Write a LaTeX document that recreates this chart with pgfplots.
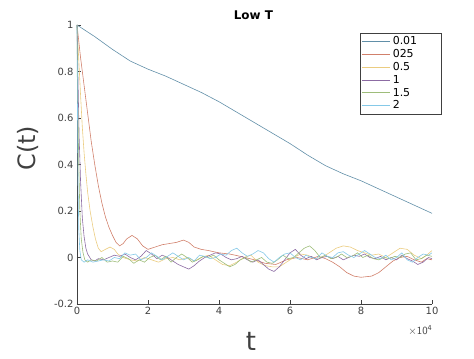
\documentclass[border=0pt]{standalone}
\usepackage{fontspec}
\setmainfont{DejaVu Sans}
\usepackage{pgfplots}
\pgfplotsset{compat=1.18}
\definecolor{cA}{rgb}{0.38,0.56,0.66}
\definecolor{cB}{rgb}{0.82,0.50,0.42}
\definecolor{cC}{rgb}{0.92,0.80,0.50}
\definecolor{cD}{rgb}{0.55,0.42,0.64}
\definecolor{cE}{rgb}{0.62,0.74,0.48}
\definecolor{cF}{rgb}{0.52,0.79,0.91}
\definecolor{axc}{rgb}{0.25,0.25,0.25}
\begin{document}
\begin{tikzpicture}[x=1bp,y=1bp]
\useasboundingbox (-77,-54) rectangle (397,304);
\begin{axis}[
  at={(0,0)}, anchor=south west,
  width=355bp, height=279bp, scale only axis,
  xmin=0, xmax=10, ymin=-0.2, ymax=1,
  axis lines=left, axis line style={-, axc},
  xtick={0,2,...,10}, ytick={-0.2,0,0.2,0.4,0.6,0.8,1},
  yticklabels={-0.2,0,0.2,0.4,0.6,0.8,1},
  tick align=inside, major tick length=4bp,
  tick style={axc},
  ticklabel style={font=\fontsize{10}{12}\selectfont, text=axc},
  /pgf/number format/assume math mode=true,
  clip=false,
  every axis plot/.append style={line width=0.6pt},
  legend style={at={(1.0254,0.9713)}, anchor=north east, font=\fontsize{11}{12}\selectfont, draw=axc, line width=0.5pt, inner sep=2bp, nodes={inner ysep=1.6bp}},
  legend cell align=left,
  legend image code/.code={\draw[#1] (0bp,0bp) -- (28bp,0bp);},
]
\addplot[cA] coordinates {(0,1.0)(0.5,0.95)(1,0.895)(1.5,0.845)(2,0.81)(2.5,0.78)(3,0.745)(3.5,0.71)(4,0.67)(4.5,0.625)(5,0.58)(5.5,0.535)(6,0.49)(6.5,0.44)(7,0.395)(7.5,0.36)(8,0.33)(8.5,0.295)(9,0.26)(9.5,0.225)(10,0.19)};
\addlegendentry{\makebox[44bp][l]{0.01}}
\addplot[cB] coordinates {(0,1.0)(0.1,0.86)(0.2,0.74)(0.3,0.62)(0.4,0.50)(0.5,0.40)(0.6,0.31)(0.7,0.235)(0.8,0.175)(0.9,0.13)(1.0,0.095)(1.1,0.065)(1.2,0.05)(1.3,0.06)(1.4,0.08)(1.55,0.095)(1.7,0.08)(1.85,0.05)(2.0,0.035)(2.2,0.045)(2.4,0.055)(2.6,0.06)(2.8,0.065)(3.0,0.075)(3.15,0.065)(3.3,0.045)(3.5,0.035)(3.7,0.03)(4.0,0.02)(4.3,0.015)(4.6,0.005)(5.0,-0.01)(5.3,-0.025)(5.6,-0.03)(5.9,-0.01)(6.2,0.0)(6.5,-0.01)(6.8,0.005)(7.0,-0.005)(7.2,-0.02)(7.4,-0.04)(7.6,-0.065)(7.8,-0.08)(8.0,-0.085)(8.3,-0.08)(8.5,-0.065)(8.7,-0.04)(8.9,-0.015)(9.1,0.0)(9.3,0.005)(9.5,-0.01)(9.7,-0.02)(9.85,-0.005)(10,-0.01)};
\addlegendentry{025}
\addplot[cC] coordinates {(0,1.0)(0.05,0.85)(0.1,0.7)(0.15,0.56)(0.2,0.45)(0.25,0.36)(0.3,0.28)(0.37,0.2)(0.45,0.13)(0.52,0.08)(0.6,0.04)(0.68,0.025)(0.8,0.035)(0.93,0.045)(1.05,0.035)(1.15,0.015)(1.3,0.0)(1.5,-0.01)(1.7,-0.015)(1.9,0.0)(2.1,-0.01)(2.3,-0.02)(2.5,-0.005)(2.7,0.0)(2.9,-0.01)(3.1,0.0)(3.3,-0.015)(3.5,0.0)(3.7,0.01)(3.9,-0.01)(4.1,-0.03)(4.3,-0.035)(4.5,-0.02)(4.7,0.0)(4.9,0.01)(5.1,-0.02)(5.3,-0.035)(5.5,-0.04)(5.7,-0.04)(5.9,-0.02)(6.1,0.0)(6.3,0.015)(6.5,0.01)(6.7,-0.005)(6.9,0.0)(7.1,0.02)(7.3,0.04)(7.5,0.05)(7.7,0.045)(7.9,0.03)(8.1,0.02)(8.3,0.01)(8.5,0.015)(8.7,0.0)(8.9,0.02)(9.1,0.04)(9.3,0.035)(9.5,0.01)(9.7,-0.005)(9.85,0.01)(10,0.03)};
\addlegendentry{0.5}
\addplot[cD] coordinates {(0,1.0)(0.03,0.75)(0.06,0.52)(0.1,0.33)(0.15,0.17)(0.2,0.09)(0.25,0.04)(0.3,0.015)(0.4,-0.01)(0.5,-0.015)(0.6,-0.005)(0.75,-0.01)(0.9,0.0)(1.05,0.01)(1.2,0.005)(1.35,0.015)(1.5,0.0)(1.65,-0.01)(1.8,0.005)(1.95,0.03)(2.1,0.015)(2.25,-0.005)(2.4,0.01)(2.55,0.0)(2.7,-0.015)(2.85,-0.03)(3.0,-0.04)(3.15,-0.05)(3.3,-0.035)(3.45,-0.015)(3.6,0.0)(3.75,0.01)(3.9,0.02)(4.05,0.015)(4.2,0.0)(4.35,-0.01)(4.5,-0.005)(4.65,0.005)(4.8,-0.01)(4.95,-0.02)(5.1,-0.01)(5.25,-0.03)(5.4,-0.05)(5.55,-0.06)(5.7,-0.04)(5.85,-0.01)(6.0,0.02)(6.15,0.035)(6.3,0.01)(6.45,-0.005)(6.6,0.005)(6.75,-0.01)(6.9,0.0)(7.05,0.005)(7.2,-0.005)(7.35,0.005)(7.5,-0.01)(7.65,0.0)(7.8,0.01)(7.95,0.005)(8.1,0.015)(8.25,0.0)(8.4,-0.005)(8.55,0.005)(8.7,-0.01)(8.85,0.0)(9.0,-0.01)(9.15,0.01)(9.3,-0.005)(9.45,-0.015)(9.6,-0.03)(9.75,-0.02)(9.9,0.0)(10,-0.005)};
\addlegendentry{1}
\addplot[cE] coordinates {(0,1.0)(0.02,0.7)(0.05,0.4)(0.08,0.2)(0.12,0.08)(0.17,0.02)(0.22,-0.01)(0.3,-0.02)(0.4,-0.01)(0.55,-0.015)(0.7,0.0)(0.85,-0.02)(1.0,-0.015)(1.15,-0.02)(1.3,0.005)(1.45,-0.005)(1.6,-0.025)(1.75,-0.01)(1.9,-0.02)(2.05,0.0)(2.2,0.01)(2.35,-0.01)(2.5,0.005)(2.65,-0.02)(2.8,0.0)(2.95,0.015)(3.1,0.0)(3.25,-0.02)(3.4,-0.01)(3.55,0.005)(3.7,0.0)(3.85,0.01)(4.0,-0.01)(4.15,-0.025)(4.3,-0.04)(4.45,-0.03)(4.6,-0.01)(4.75,0.0)(4.9,-0.02)(5.05,-0.01)(5.2,0.0)(5.35,-0.02)(5.5,-0.025)(5.65,-0.01)(5.8,0.01)(5.95,-0.005)(6.1,0.0)(6.25,0.02)(6.4,0.04)(6.55,0.05)(6.7,0.03)(6.85,0.0)(7.0,0.01)(7.15,-0.005)(7.3,0.0)(7.45,0.015)(7.6,0.0)(7.75,0.005)(7.9,0.02)(8.05,0.0)(8.2,0.01)(8.35,-0.005)(8.5,-0.01)(8.65,0.0)(8.8,-0.005)(8.95,0.005)(9.1,0.0)(9.25,0.015)(9.4,0.02)(9.55,-0.01)(9.7,-0.005)(9.85,0.01)(10,0.005)};
\addlegendentry{1.5}
\addplot[cF] coordinates {(0,1.0)(0.015,0.6)(0.03,0.3)(0.05,0.12)(0.08,0.03)(0.12,-0.01)(0.2,-0.02)(0.3,-0.01)(0.45,-0.02)(0.6,-0.015)(0.75,-0.01)(0.9,-0.015)(1.05,0.0)(1.2,-0.005)(1.35,0.02)(1.5,0.01)(1.65,0.015)(1.8,-0.01)(1.95,0.0)(2.1,0.02)(2.25,0.005)(2.4,-0.01)(2.55,0.005)(2.7,0.02)(2.85,0.005)(3.0,-0.01)(3.15,0.0)(3.3,-0.015)(3.45,0.01)(3.6,0.005)(3.75,-0.005)(3.9,0.0)(4.05,0.015)(4.2,0.01)(4.35,0.03)(4.5,0.04)(4.65,0.02)(4.8,0.005)(4.95,0.015)(5.1,0.03)(5.25,0.02)(5.4,-0.005)(5.55,-0.02)(5.7,0.0)(5.85,0.015)(6.0,0.02)(6.15,0.0)(6.3,-0.01)(6.45,0.01)(6.6,0.0)(6.75,-0.005)(6.9,0.02)(7.05,0.005)(7.2,0.0)(7.35,0.02)(7.5,0.025)(7.65,0.01)(7.8,0.0)(7.95,0.015)(8.1,0.03)(8.25,0.015)(8.4,0.0)(8.55,-0.005)(8.7,0.01)(8.85,-0.01)(9.0,0.0)(9.15,0.02)(9.3,-0.01)(9.45,-0.02)(9.6,0.0)(9.75,0.015)(9.9,0.01)(10,0.02)};
\addlegendentry{2}
\node[font=\bfseries\fontsize{12}{14}\selectfont, anchor=base] at (axis description cs:0.497,1.0215) {Low T};
\node[font=\fontsize{26}{28}\selectfont, text=axc, anchor=center] at (axis description cs:0.49,-0.135) {t};
\node[font=\fontsize{24}{26}\selectfont, text=axc, anchor=center, rotate=90] at (axis description cs:-0.138,0.559) {C(t)};
\node[font=\fontsize{11}{13}\selectfont, text=axc, anchor=center] at (axis description cs:0.967,-0.095) {$\times\mathsf{10^{4}}$};
\end{axis}
\end{tikzpicture}
\end{document}
